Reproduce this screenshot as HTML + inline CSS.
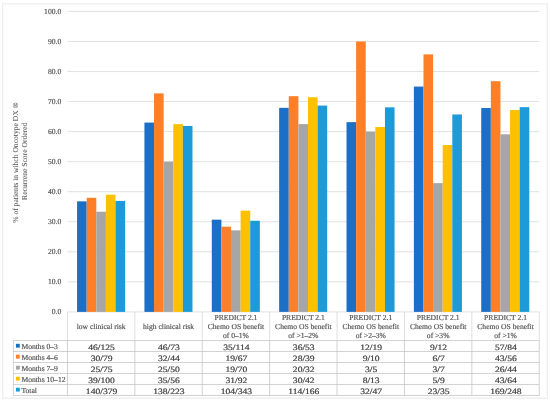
<!DOCTYPE html><html><head><meta charset="utf-8"><title>chart</title>
<style>html,body{margin:0;padding:0;background:#fff}svg{display:block;filter:blur(0.3px)}text{font-family:"Liberation Serif",serif;text-rendering:geometricPrecision;stroke-width:0.18px}.t{font-size:7.6px;fill:#555;stroke:#555}.d{font-size:8.2px;fill:#404040;stroke:#404040;stroke-width:0.2px}</style></head><body>
<svg width="550" height="402" viewBox="0 0 550 402">
<rect width="550" height="402" fill="#fff"/>
<rect x="2.6" y="3.8" width="544.7" height="394.4" fill="none" stroke="#eeeeee" stroke-width="1.3"/>
<line x1="67.45" x2="539.25" y1="311.90" y2="311.90" stroke="#dedede" stroke-width="0.9"/>
<text x="61.2" y="314.45" class="t" text-anchor="end">0.0</text>
<line x1="67.45" x2="539.25" y1="281.85" y2="281.85" stroke="#dedede" stroke-width="0.9"/>
<text x="61.2" y="284.40" class="t" text-anchor="end">10.0</text>
<line x1="67.45" x2="539.25" y1="251.81" y2="251.81" stroke="#dedede" stroke-width="0.9"/>
<text x="61.2" y="254.36" class="t" text-anchor="end">20.0</text>
<line x1="67.45" x2="539.25" y1="221.76" y2="221.76" stroke="#dedede" stroke-width="0.9"/>
<text x="61.2" y="224.31" class="t" text-anchor="end">30.0</text>
<line x1="67.45" x2="539.25" y1="191.72" y2="191.72" stroke="#dedede" stroke-width="0.9"/>
<text x="61.2" y="194.27" class="t" text-anchor="end">40.0</text>
<line x1="67.45" x2="539.25" y1="161.67" y2="161.67" stroke="#dedede" stroke-width="0.9"/>
<text x="61.2" y="164.22" class="t" text-anchor="end">50.0</text>
<line x1="67.45" x2="539.25" y1="131.63" y2="131.63" stroke="#dedede" stroke-width="0.9"/>
<text x="61.2" y="134.18" class="t" text-anchor="end">60.0</text>
<line x1="67.45" x2="539.25" y1="101.58" y2="101.58" stroke="#dedede" stroke-width="0.9"/>
<text x="61.2" y="104.13" class="t" text-anchor="end">70.0</text>
<line x1="67.45" x2="539.25" y1="71.54" y2="71.54" stroke="#dedede" stroke-width="0.9"/>
<text x="61.2" y="74.09" class="t" text-anchor="end">80.0</text>
<line x1="67.45" x2="539.25" y1="41.50" y2="41.50" stroke="#dedede" stroke-width="0.9"/>
<text x="61.2" y="44.05" class="t" text-anchor="end">90.0</text>
<line x1="67.45" x2="539.25" y1="11.45" y2="11.45" stroke="#dedede" stroke-width="0.9"/>
<text x="61.2" y="14.00" class="t" text-anchor="end">100.0</text>
<rect x="77.07" y="201.33" width="9.61" height="110.57" fill="#1b6fc6"/>
<rect x="86.68" y="197.81" width="9.61" height="114.09" fill="#fd7f28"/>
<rect x="96.29" y="211.75" width="9.61" height="100.15" fill="#a6a6a6"/>
<rect x="105.90" y="194.72" width="9.61" height="117.18" fill="#ffc000"/>
<rect x="115.51" y="200.92" width="9.61" height="110.98" fill="#1c9bd8"/>
<rect x="144.43" y="122.58" width="9.61" height="189.32" fill="#1b6fc6"/>
<rect x="154.04" y="93.39" width="9.61" height="218.51" fill="#fd7f28"/>
<rect x="163.65" y="161.67" width="9.61" height="150.22" fill="#a6a6a6"/>
<rect x="173.26" y="124.12" width="9.61" height="187.78" fill="#ffc000"/>
<rect x="182.87" y="125.97" width="9.61" height="185.93" fill="#1c9bd8"/>
<rect x="211.79" y="219.66" width="9.61" height="92.24" fill="#1b6fc6"/>
<rect x="221.40" y="226.70" width="9.61" height="85.20" fill="#fd7f28"/>
<rect x="231.01" y="230.35" width="9.61" height="81.55" fill="#a6a6a6"/>
<rect x="240.62" y="210.66" width="9.61" height="101.24" fill="#ffc000"/>
<rect x="250.23" y="220.80" width="9.61" height="91.10" fill="#1c9bd8"/>
<rect x="279.15" y="107.82" width="9.61" height="204.08" fill="#1b6fc6"/>
<rect x="288.76" y="96.19" width="9.61" height="215.71" fill="#fd7f28"/>
<rect x="298.38" y="124.12" width="9.61" height="187.78" fill="#a6a6a6"/>
<rect x="307.98" y="97.29" width="9.61" height="214.61" fill="#ffc000"/>
<rect x="317.59" y="105.57" width="9.61" height="206.33" fill="#1c9bd8"/>
<rect x="346.51" y="122.14" width="9.61" height="189.76" fill="#1b6fc6"/>
<rect x="356.12" y="41.50" width="9.61" height="270.40" fill="#fd7f28"/>
<rect x="365.74" y="131.63" width="9.61" height="180.27" fill="#a6a6a6"/>
<rect x="375.34" y="127.01" width="9.61" height="184.89" fill="#ffc000"/>
<rect x="384.95" y="107.34" width="9.61" height="204.56" fill="#1c9bd8"/>
<rect x="413.88" y="86.56" width="9.61" height="225.34" fill="#1b6fc6"/>
<rect x="423.49" y="54.37" width="9.61" height="257.53" fill="#fd7f28"/>
<rect x="433.10" y="183.14" width="9.61" height="128.76" fill="#a6a6a6"/>
<rect x="442.70" y="144.98" width="9.61" height="166.92" fill="#ffc000"/>
<rect x="452.31" y="114.46" width="9.61" height="197.44" fill="#1c9bd8"/>
<rect x="481.24" y="108.02" width="9.61" height="203.88" fill="#1b6fc6"/>
<rect x="490.85" y="81.20" width="9.61" height="230.70" fill="#fd7f28"/>
<rect x="500.46" y="134.36" width="9.61" height="177.54" fill="#a6a6a6"/>
<rect x="510.06" y="110.04" width="9.61" height="201.86" fill="#ffc000"/>
<rect x="519.67" y="107.16" width="9.61" height="204.74" fill="#1c9bd8"/>
<line x1="13.4" x2="539.25" y1="340.55" y2="340.55" stroke="#c6c6c6" stroke-width="0.8"/>
<line x1="13.4" x2="539.25" y1="351.53" y2="351.53" stroke="#c6c6c6" stroke-width="0.8"/>
<line x1="13.4" x2="539.25" y1="362.51" y2="362.51" stroke="#c6c6c6" stroke-width="0.8"/>
<line x1="13.4" x2="539.25" y1="373.49" y2="373.49" stroke="#c6c6c6" stroke-width="0.8"/>
<line x1="13.4" x2="539.25" y1="384.47" y2="384.47" stroke="#c6c6c6" stroke-width="0.8"/>
<line x1="13.4" x2="539.25" y1="395.45" y2="395.45" stroke="#c6c6c6" stroke-width="0.8"/>
<line x1="13.4" x2="13.4" y1="340.55" y2="395.45" stroke="#c6c6c6" stroke-width="0.8"/>
<line x1="67.45" x2="67.45" y1="311.9" y2="340.55" stroke="#d8d8d8" stroke-width="0.8"/>
<line x1="67.45" x2="67.45" y1="340.55" y2="395.45" stroke="#c6c6c6" stroke-width="0.8"/>
<line x1="134.85" x2="134.85" y1="311.9" y2="340.55" stroke="#d8d8d8" stroke-width="0.8"/>
<line x1="134.85" x2="134.85" y1="340.55" y2="395.45" stroke="#c6c6c6" stroke-width="0.8"/>
<line x1="202.25" x2="202.25" y1="311.9" y2="340.55" stroke="#d8d8d8" stroke-width="0.8"/>
<line x1="202.25" x2="202.25" y1="340.55" y2="395.45" stroke="#c6c6c6" stroke-width="0.8"/>
<line x1="269.65" x2="269.65" y1="311.9" y2="340.55" stroke="#d8d8d8" stroke-width="0.8"/>
<line x1="269.65" x2="269.65" y1="340.55" y2="395.45" stroke="#c6c6c6" stroke-width="0.8"/>
<line x1="337.05" x2="337.05" y1="311.9" y2="340.55" stroke="#d8d8d8" stroke-width="0.8"/>
<line x1="337.05" x2="337.05" y1="340.55" y2="395.45" stroke="#c6c6c6" stroke-width="0.8"/>
<line x1="404.45" x2="404.45" y1="311.9" y2="340.55" stroke="#d8d8d8" stroke-width="0.8"/>
<line x1="404.45" x2="404.45" y1="340.55" y2="395.45" stroke="#c6c6c6" stroke-width="0.8"/>
<line x1="471.85" x2="471.85" y1="311.9" y2="340.55" stroke="#d8d8d8" stroke-width="0.8"/>
<line x1="471.85" x2="471.85" y1="340.55" y2="395.45" stroke="#c6c6c6" stroke-width="0.8"/>
<line x1="539.25" x2="539.25" y1="311.9" y2="340.55" stroke="#d8d8d8" stroke-width="0.8"/>
<line x1="539.25" x2="539.25" y1="340.55" y2="395.45" stroke="#c6c6c6" stroke-width="0.8"/>
<text x="101.15" y="329" class="t" text-anchor="middle">low clinical risk</text>
<text transform="translate(101.55 349.90) scale(1.17 1)" class="d" text-anchor="middle">46/125</text>
<text transform="translate(101.55 360.88) scale(1.17 1)" class="d" text-anchor="middle">30/79</text>
<text transform="translate(101.55 371.86) scale(1.17 1)" class="d" text-anchor="middle">25/75</text>
<text transform="translate(101.55 382.84) scale(1.17 1)" class="d" text-anchor="middle">39/100</text>
<text transform="translate(101.55 393.82) scale(1.17 1)" class="d" text-anchor="middle">140/379</text>
<text x="168.55" y="329" class="t" text-anchor="middle">high clinical risk</text>
<text transform="translate(168.95 349.90) scale(1.17 1)" class="d" text-anchor="middle">46/73</text>
<text transform="translate(168.95 360.88) scale(1.17 1)" class="d" text-anchor="middle">32/44</text>
<text transform="translate(168.95 371.86) scale(1.17 1)" class="d" text-anchor="middle">25/50</text>
<text transform="translate(168.95 382.84) scale(1.17 1)" class="d" text-anchor="middle">35/56</text>
<text transform="translate(168.95 393.82) scale(1.17 1)" class="d" text-anchor="middle">138/223</text>
<text x="235.95" y="320.00" class="t" text-anchor="middle">PREDICT 2.1</text>
<text x="235.95" y="329.00" class="t" text-anchor="middle">Chemo OS benefit</text>
<text x="235.95" y="338.00" class="t" text-anchor="middle">of 0–1%</text>
<text transform="translate(236.35 349.90) scale(1.17 1)" class="d" text-anchor="middle">35/114</text>
<text transform="translate(236.35 360.88) scale(1.17 1)" class="d" text-anchor="middle">19/67</text>
<text transform="translate(236.35 371.86) scale(1.17 1)" class="d" text-anchor="middle">19/70</text>
<text transform="translate(236.35 382.84) scale(1.17 1)" class="d" text-anchor="middle">31/92</text>
<text transform="translate(236.35 393.82) scale(1.17 1)" class="d" text-anchor="middle">104/343</text>
<text x="303.35" y="320.00" class="t" text-anchor="middle">PREDICT 2.1</text>
<text x="303.35" y="329.00" class="t" text-anchor="middle">Chemo OS benefit</text>
<text x="303.35" y="338.00" class="t" text-anchor="middle">of &gt;1–2%</text>
<text transform="translate(303.75 349.90) scale(1.17 1)" class="d" text-anchor="middle">36/53</text>
<text transform="translate(303.75 360.88) scale(1.17 1)" class="d" text-anchor="middle">28/39</text>
<text transform="translate(303.75 371.86) scale(1.17 1)" class="d" text-anchor="middle">20/32</text>
<text transform="translate(303.75 382.84) scale(1.17 1)" class="d" text-anchor="middle">30/42</text>
<text transform="translate(303.75 393.82) scale(1.17 1)" class="d" text-anchor="middle">114/166</text>
<text x="370.75" y="320.00" class="t" text-anchor="middle">PREDICT 2.1</text>
<text x="370.75" y="329.00" class="t" text-anchor="middle">Chemo OS benefit</text>
<text x="370.75" y="338.00" class="t" text-anchor="middle">of &gt;2–3%</text>
<text transform="translate(371.15 349.90) scale(1.17 1)" class="d" text-anchor="middle">12/19</text>
<text transform="translate(371.15 360.88) scale(1.17 1)" class="d" text-anchor="middle">9/10</text>
<text transform="translate(371.15 371.86) scale(1.17 1)" class="d" text-anchor="middle">3/5</text>
<text transform="translate(371.15 382.84) scale(1.17 1)" class="d" text-anchor="middle">8/13</text>
<text transform="translate(371.15 393.82) scale(1.17 1)" class="d" text-anchor="middle">32/47</text>
<text x="438.15" y="320.00" class="t" text-anchor="middle">PREDICT 2.1</text>
<text x="438.15" y="329.00" class="t" text-anchor="middle">Chemo OS benefit</text>
<text x="438.15" y="338.00" class="t" text-anchor="middle">of &gt;3%</text>
<text transform="translate(438.55 349.90) scale(1.17 1)" class="d" text-anchor="middle">9/12</text>
<text transform="translate(438.55 360.88) scale(1.17 1)" class="d" text-anchor="middle">6/7</text>
<text transform="translate(438.55 371.86) scale(1.17 1)" class="d" text-anchor="middle">3/7</text>
<text transform="translate(438.55 382.84) scale(1.17 1)" class="d" text-anchor="middle">5/9</text>
<text transform="translate(438.55 393.82) scale(1.17 1)" class="d" text-anchor="middle">23/35</text>
<text x="505.55" y="320.00" class="t" text-anchor="middle">PREDICT 2.1</text>
<text x="505.55" y="329.00" class="t" text-anchor="middle">Chemo OS benefit</text>
<text x="505.55" y="338.00" class="t" text-anchor="middle">of &gt;1%</text>
<text transform="translate(505.95 349.90) scale(1.17 1)" class="d" text-anchor="middle">57/84</text>
<text transform="translate(505.95 360.88) scale(1.17 1)" class="d" text-anchor="middle">43/56</text>
<text transform="translate(505.95 371.86) scale(1.17 1)" class="d" text-anchor="middle">26/44</text>
<text transform="translate(505.95 382.84) scale(1.17 1)" class="d" text-anchor="middle">43/64</text>
<text transform="translate(505.95 393.82) scale(1.17 1)" class="d" text-anchor="middle">169/248</text>
<rect x="15.95" y="343.79" width="3.85" height="3.85" fill="#1b6fc6"/>
<text x="21.4" y="348.64" class="t">Months 0–3</text>
<rect x="15.95" y="354.77" width="3.85" height="3.85" fill="#fd7f28"/>
<text x="21.4" y="359.62" class="t">Months 4–6</text>
<rect x="15.95" y="365.75" width="3.85" height="3.85" fill="#a6a6a6"/>
<text x="21.4" y="370.60" class="t">Months 7–9</text>
<rect x="15.95" y="376.73" width="3.85" height="3.85" fill="#ffc000"/>
<text x="21.4" y="381.58" class="t">Months 10–12</text>
<rect x="15.95" y="387.71" width="3.85" height="3.85" fill="#1c9bd8"/>
<text x="21.4" y="392.56" class="t">Total</text>
<text transform="translate(17.8 162.7) rotate(-90)" class="t" style="stroke-width:0.05px" text-anchor="middle">% of patients in wihch Oncotype DX ®</text>
<text transform="translate(27.2 161.3) rotate(-90)" class="t" style="stroke-width:0.05px" text-anchor="middle">Recurrene Score Ordered</text>
</svg></body></html>
